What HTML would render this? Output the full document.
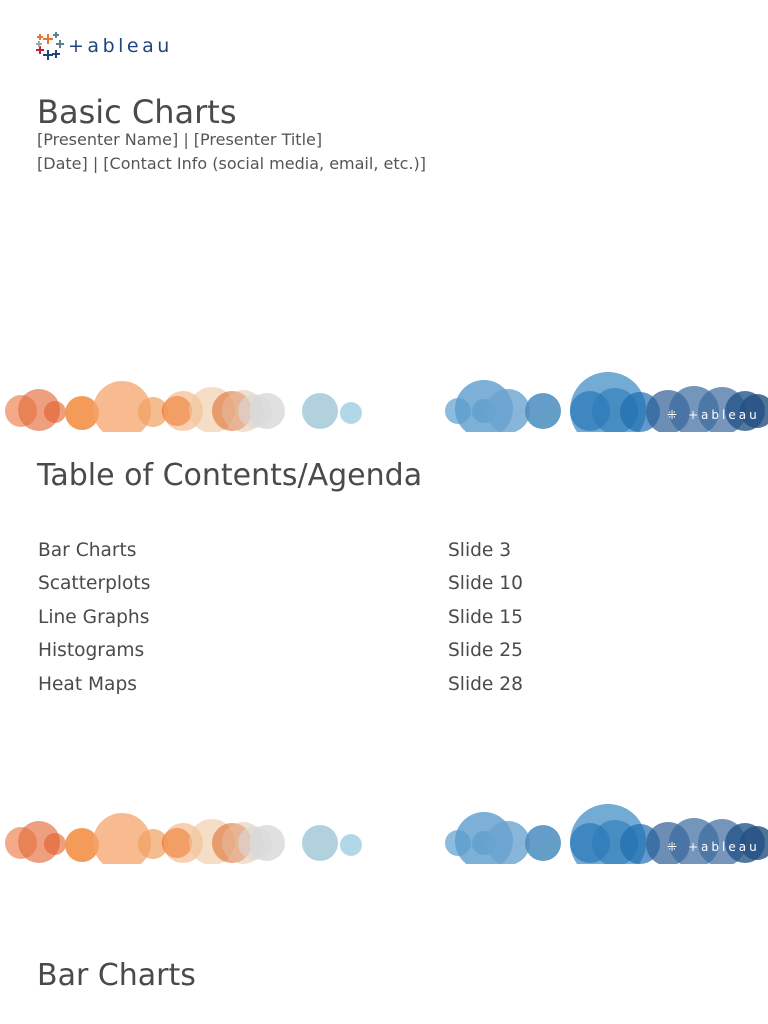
<!DOCTYPE html>
<html><head><meta charset="utf-8">
<style>
body{margin:0;width:768px;height:1024px;background:#fff;position:relative;overflow:hidden;font-family:"DejaVu Sans","Liberation Sans",sans-serif;color:#4a4a4a}
.a{position:absolute;white-space:nowrap}
.h1{font-size:30px;color:#4a4a4a}
.sub{font-size:16px;color:#555}
.toc{font-size:18.6px;color:#4a4a4a}
svg{position:absolute;left:0}
</style></head><body>
<div class="a" style="left:36px;top:30px;width:140px;height:32px">
<svg width="30" height="32" style="left:0;top:0">
<g stroke-width="2">
<path d="M12 4v10M7 9h10" stroke="#e8762b"/><path d="M4 4v6M1 7h6" stroke="#e8762b" />
<path d="M20 2v6M17 5h6" stroke="#5b7f95"/><path d="M24 10v8M20 14h8" stroke="#5b7f95"/>
<path d="M4 16v8M0 20h8" stroke="#c72035"/><path d="M12 20v10M7 25h10" stroke="#1f447e"/>
<path d="M20 20v8M16 24h8" stroke="#1f447e"/><path d="M3 11v6M0 14h6" stroke="#9aa" />
</g></svg>
<div class="a" style="left:32px;top:5px;font-size:19px;letter-spacing:3.5px;color:#1f447e">+ableau</div>
</div>
<div class="a h1" style="left:37px;top:93px;font-size:32px">Basic Charts</div>
<div class="a sub" style="left:37px;top:130px">[Presenter Name] | [Presenter Title]</div>
<div class="a sub" style="left:37px;top:154px">[Date] | [Contact Info (social media, email, etc.)]</div>

<svg id="band1" width="768" height="70" style="top:362px"></svg>

<div class="a h1" style="left:37px;top:458px">Table of Contents/Agenda</div>
<div>
<div class="a toc" style="left:38px;top:540px">Bar Charts</div>
<div class="a toc" style="left:448px;top:540px">Slide 3</div>
<div class="a toc" style="left:38px;top:573px">Scatterplots</div>
<div class="a toc" style="left:448px;top:573px">Slide 10</div>
<div class="a toc" style="left:38px;top:607px">Line Graphs</div>
<div class="a toc" style="left:448px;top:607px">Slide 15</div>
<div class="a toc" style="left:38px;top:640px">Histograms</div>
<div class="a toc" style="left:448px;top:640px">Slide 25</div>
<div class="a toc" style="left:38px;top:674px">Heat Maps</div>
<div class="a toc" style="left:448px;top:674px">Slide 28</div>
</div>

<svg id="band2" width="768" height="70" style="top:794px"></svg>

<div class="a h1" style="left:37px;top:958px">Bar Charts</div>

<script>
const bx=[21,39,55,82,122,153,177,183,212,232,243,255,267,320,351,458,484,484,508,543,608,590,615,640,668,694,722,745,757];
const by=[411,410,412,413,410,412,411,411,410,411,411,411,411,411,413,411,409,411,411,411,410,411,411,412,412,411,411,411,411];
const br=[16,21,11,17,29,15,15,20,23,20,21,17,18,18,11,13,29,12,22,18,38,20,23,20,22,25,24,20,17];
const bc=["#e8733a","#e36b3c","#e0602a","#f28a3c","#f5a46b","#f0a060","#e8702a","#f5b07a","#eec6a0","#e07030","#e3c0a4","#d8d8d8","#d8d8d8","#a8ccdc","#a8d4e4","#5a9ed0","#5b9ccc","#5a98c8","#6aa4d0","#4a8cc0","#4f96c8","#2a78b8","#2a7ab8","#1e6eb0","#2d5e94","#3a6a9e","#3a6a9c","#27558a","#234f82"];
const bo=[.6,.65,.6,.85,.75,.7,.85,.6,.6,.6,.5,.6,.8,.9,.9,.7,.8,.6,.8,.85,.8,.7,.6,.7,.7,.7,.7,.8,.8];
const NS="http://www.w3.org/2000/svg";
function band(id){
  const s=document.getElementById(id);
  for(let i=0;i<bx.length;i++){
    const c=document.createElementNS(NS,'circle');
    c.setAttribute('cx',bx[i]);c.setAttribute('cy',by[i]-362);c.setAttribute('r',br[i]);
    c.setAttribute('fill',bc[i]);c.setAttribute('fill-opacity',bo[i]);
    
    
    s.appendChild(c);
  }
  const t=document.createElementNS(NS,'text');
  t.setAttribute('x',688);t.setAttribute('y',57);t.setAttribute('fill','#fff');
  t.setAttribute('font-size','12');t.setAttribute('letter-spacing','3');
  t.setAttribute('font-family','DejaVu Sans, sans-serif');
  t.textContent='+ableau';
  
  
  s.appendChild(t);
  const p=document.createElementNS(NS,'text');
  p.setAttribute('x',667);p.setAttribute('y',57);p.setAttribute('fill','#fff');p.setAttribute('font-size','12');
  p.textContent='⁜';
  
  
  s.appendChild(p);
}
band('band1');band('band2');
</script>
</body></html>
